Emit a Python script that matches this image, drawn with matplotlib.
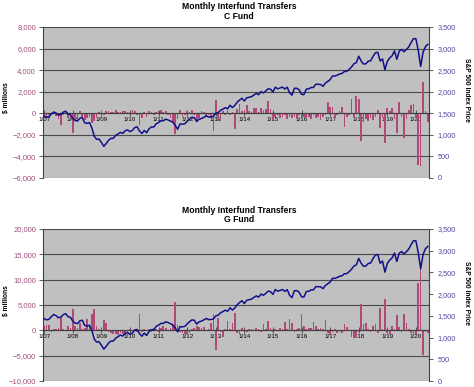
import numpy as np
import matplotlib.pyplot as plt
from matplotlib.ticker import StrMethodFormatter

plt.rcParams['font.family'] = ['Liberation Sans', 'DejaVu Sans']

# year tick labels (one per January, monthly data Jan 2007 - Jun 2020)
year_labels = ['1/07', '1/08', '1/09', '1/10', '1/11', '1/12', '1/13',
               '1/14', '1/15', '1/16', '1/17', '1/18', '1/19', '1/20']

# S&P 500 month-end close
sp500 = [
    1438, 1407, 1421, 1482, 1531, 1503, 1455, 1474, 1527, 1549, 1481, 1468,
    1379, 1331, 1323, 1386, 1400, 1280, 1267, 1283, 1165, 969, 896, 903,
    826, 735, 798, 873, 919, 919, 987, 1021, 1057, 1036, 1096, 1115,
    1074, 1104, 1169, 1187, 1089, 1031, 1102, 1049, 1141, 1183, 1181, 1258,
    1286, 1327, 1326, 1364, 1345, 1321, 1292, 1219, 1131, 1253, 1247, 1258,
    1312, 1366, 1408, 1398, 1310, 1362, 1379, 1407, 1441, 1412, 1416, 1426,
    1498, 1515, 1569, 1598, 1631, 1606, 1686, 1633, 1682, 1757, 1806, 1848,
    1783, 1859, 1872, 1884, 1924, 1960, 1931, 2003, 1972, 2018, 2068, 2059,
    1995, 2105, 2068, 2086, 2107, 2063, 2104, 1972, 1920, 2079, 2080, 2044,
    1940, 1932, 2060, 2065, 2097, 2099, 2174, 2171, 2168, 2126, 2199, 2239,
    2279, 2364, 2363, 2384, 2412, 2423, 2470, 2472, 2519, 2575, 2648, 2674,
    2824, 2714, 2641, 2648, 2705, 2718, 2816, 2902, 2914, 2712, 2760, 2507,
    2704, 2784, 2834, 2946, 2752, 2942, 2980, 2926, 2977, 3038, 3141, 3231,
    3226, 2954, 2585, 2912, 3044, 3100,
]

# net monthly interfund transfers, $ millions
c_fund = [
    -200, -300, -150, -100, 100, -250, -500, -1100, -200, 100, -400, -300,
    -1800, -500, -700, 200, -300, -600, -400, -300, -900, -700, -300, 150,
    200, -200, 250, 200, 100, 150, 300, 150, 100, 250, 200, 150,
    100, 300, 200, -200, -1100, -400, 150, -300, 200, 100, -200, 150,
    200, 350, 100, 200, -200, -400, -800, -1900, -500, 300, -300, -200,
    200, 150, 300, -200, -600, -400, 200, 100, -300, -200, -400, -1650,
    1200, -700, -300, 200, -200, 300, -200, 100, -1500, 400, 900, 200,
    300, 800, 200, 100, 500, 500, 100, 500, 300, 400, 1100, 400,
    -600, -300, -200, -400, -300, -200, -500, -300, -400, -300, -500, -200,
    -500, -300, -400, -300, -500, -200, -400, -300, -600, -300, -200, 1000,
    600, 600, -400, -200, 200, 600, -1300, -300, -200, 1300, -300, 1600,
    1300, -2600, -800, -500, -700, -400, -600, -300, 300, -1400, -300, -2800,
    500, 200, 500, -500, -1850, 1000, -300, -2300, -500, 300, 800, 900,
    -400, -4800, -4900, 2900, 200, -800,
]

g_fund = [
    800, 1000, 1000, -300, 200, 300, 500, 2700, 200, 100, 800, 400,
    4300, 800, 500, 1400, 300, 500, 2200, 800, 3300, 4300, 800, 300,
    300, 2000, 1400, -300, -600, -800, -700, -1000, -500, -800, -600, -400,
    300, -200, 200, -300, 3200, -300, 300, -200, 200, -400, 500, 200,
    -300, 500, 800, 400, -200, 400, 1000, 5500, 1000, -300, -500, -800,
    -800, -600, 200, 500, 800, 600, 500, 700, -200, 300, 1500, 3300,
    -3800, 2400, -300, -1300, 300, 1800, 300, 1500, 3500, -500, -800, 400,
    300, -400, 200, 300, -200, 500, 200, -300, 1200, 300, 1800, 400,
    -300, 300, -200, 400, 200, 1600, 300, 2200, 1400, -300, 300, 500,
    3300, 800, 300, 500, 500, 1650, 800, 300, 500, 300, 2000, -600,
    -900, -300, 300, -500, -400, -500, 1300, 700, -200, -1300, -1600, -1500,
    -300, 5100, 1200, 1500, 200, -300, 800, 1300, -500, 4400, 300, 6100,
    -500, -800, 800, 300, 3000, 600, -300, 3300, 1500, 300, -500, -900,
    -700, 9300, 12500, -4900, -300, -500,
]

BAR_COLOR = '#b04878'
LINE_COLOR = '#10108a'
LEFT_TICK = '#a0507a'
RIGHT_TICK = '#4a4aa0'
AX_COLOR = '#404040'

W, H = 474, 387
fig = plt.figure(figsize=(W / 100, H / 100), dpi=100)


def draw_panel(top, bottom, flows, ylim, ystep, fund, title_y):
    ax = fig.add_axes([43 / W, 1 - bottom / H, 386 / W, (bottom - top) / H])
    x = np.arange(len(flows))
    ax.set_facecolor('#c0c0c0')
    ax.bar(x, flows, width=0.7, color=BAR_COLOR, linewidth=0, zorder=2)
    ax.set_xlim(-0.5, len(flows) - 0.5)
    ax.set_ylim(*ylim)
    ax.set_yticks(np.arange(ylim[0], ylim[1] + 1, ystep))
    ax.yaxis.set_major_formatter(StrMethodFormatter('{x:,.0f}'))
    ax.grid(axis='y', color='#4a4a4a', lw=0.8, zorder=1)
    ax.set_axisbelow(True)

    # category axis crosses at zero
    ax.spines['bottom'].set_position(('data', 0))
    ax.spines['bottom'].set_color(AX_COLOR)
    ax.spines['bottom'].set_linewidth(0.8)
    ax.spines['top'].set_visible(False)
    ax.spines['right'].set_visible(False)
    ax.spines['left'].set_color(AX_COLOR)
    ax.set_xticks(np.arange(0, len(flows), 12))
    ax.set_xticklabels(year_labels)
    ax.tick_params(axis='x', direction='inout', length=4, width=0.6,
                   color=AX_COLOR, labelsize=4.5, pad=1)
    ax.tick_params(axis='y', length=3, width=0.6, color=AX_COLOR,
                   labelsize=5.5, labelcolor=LEFT_TICK, pad=2)
    ax.set_ylabel('$ millions', fontsize=4.8, fontweight='bold')
    ax.yaxis.set_label_coords(-0.085, 0.53)

    ax2 = ax.twinx()
    ax2.plot(x, sp500, color=LINE_COLOR, lw=1.1)
    ax2.set_ylim(0, 3500)
    ax2.set_yticks(np.arange(0, 3501, 500))
    ax2.yaxis.set_major_formatter(StrMethodFormatter('{x:,.0f}'))
    for s in ['top', 'bottom', 'left']:
        ax2.spines[s].set_visible(False)
    ax2.spines['right'].set_color(AX_COLOR)
    ax2.tick_params(axis='y', length=3, width=0.6, color=AX_COLOR,
                    labelsize=5.3, labelcolor=RIGHT_TICK, pad=3)
    ax2.set_ylabel('S&P 500 Index Price', fontsize=4.8, fontweight='bold',
                   rotation=270, va='center')
    ax2.yaxis.set_label_coords(1.098, 0.58)

    fig.text(239 / W, 1 - title_y / H, 'Monthly Interfund Transfers\n' + fund,
             ha='center', va='center', fontsize=6.2, fontweight='bold',
             linespacing=1.05)


draw_panel(27, 178, c_fund, (-6000, 8000), 2000, 'C Fund', 11.5)
draw_panel(229, 381, g_fund, (-10000, 20000), 5000, 'G Fund', 215)

fig.savefig('out.png', dpi=100)
